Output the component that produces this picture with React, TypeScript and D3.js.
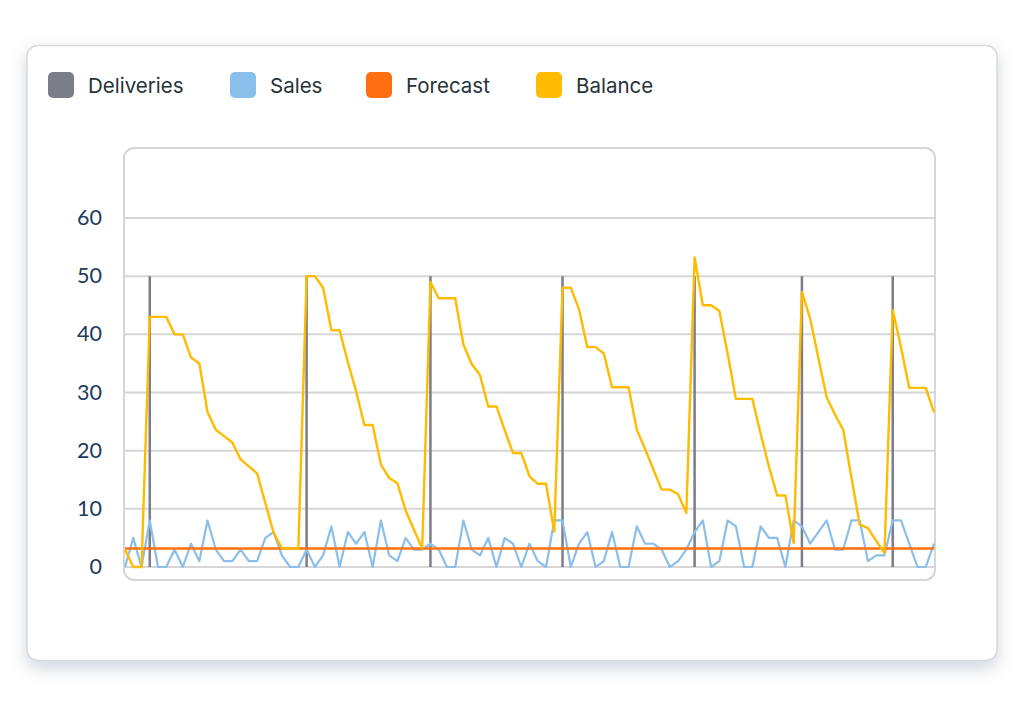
import React from 'react'
import * as d3 from 'd3'

// daily series, day index 0..98
const sales = [
    0, 5, 0, 8, 0, 0, 3, 0, 4, 1, 8, 3, 1, 1, 3, 1, 1, 5, 6, 2, 0, 0, 3, 0, 2,
    7, 0, 6, 4, 6, 0, 8, 2, 1, 5, 3, 3, 4, 3, 0, 0, 8, 3, 2, 5, 0, 5, 4, 0, 4,
    1, 0, 8, 8, 0, 4, 6, 0, 1, 6, 0, 0, 7, 4, 4, 3, 0, 1, 3, 6, 8, 0, 1, 8, 7,
    0, 0, 7, 5, 5, 0, 8, 7, 4, 6, 8, 3, 3, 8, 8, 1, 2, 2, 8, 8, 4, 0, 0, 4,
]

const balance = [
    3, 0, 0, 43, 43, 43, 40, 40, 36, 35, 26.6, 23.6, 22.5, 21.4, 18.5, 17.3,
    16.1, 11, 5.9, 3.2, 3.2, 3.2, 50, 50, 48, 40.7, 40.7, 35.2, 30.2, 24.4,
    24.4, 17.6, 15.3, 14.4, 9.7, 6.4, 3.2, 49, 46.2, 46.2, 46.2, 38.2, 34.9, 33,
    27.6, 27.6, 23.5, 19.6, 19.6, 15.6, 14.3, 14.3, 6.1, 48, 48, 44.3, 37.8,
    37.8, 36.7, 30.9, 30.9, 30.9, 23.6, 20.3, 16.8, 13.3, 13.3, 12.5, 9.3, 53.2,
    45, 45, 44, 36.7, 28.9, 28.9, 28.9, 22.9, 17.3, 12.3, 12.3, 4.1, 47.3, 42.7,
    35.9, 29.2, 26.2, 23.6, 15.4, 7.3, 6.7, 4.5, 2.4, 44.2, 37.8, 30.8, 30.8,
    30.8, 26.6,
]

const deliveryDays = [3, 22, 37, 53, 69, 82, 93]
const deliveryAmounts = [50, 50, 50, 50, 50, 50, 50]

const forecastLevel = 3.2

const yTicks = [0, 10, 20, 30, 40, 50, 60]

const legendItems = ['Deliveries', 'Sales', 'Forecast', 'Balance']
const legendColors = ['#7b7d88', '#8abfeb', '#ff6f12', '#ffbb00']
const legendX = [48, 230, 366, 536]

const App = () => {
    const days = d3.range(sales.length)

    // plot region
    const box = { left: 124, top: 148, right: 935, bottom: 580 }

    const x = d3
        .scalePoint<number>()
        .domain(days)
        .range([125, 934])

    const y = d3.scaleLinear().domain([0, 60]).range([567, 218])

    const line = d3
        .line<number>()
        .x((_, i) => x(i) as number)
        .y((d) => y(d))

    return (
        <svg
            width={1024}
            height={706}
            style={{ position: 'absolute', left: 0, top: 0, background: '#fff' }}
        >
            <defs>
                <filter id="cardShadow" x="-10%" y="-10%" width="120%" height="130%">
                    <feDropShadow
                        dx="0"
                        dy="7"
                        stdDeviation="8"
                        floodColor="#5a6a85"
                        floodOpacity="0.28"
                    />
                </filter>
            </defs>

            {/* card */}
            <rect
                x={27}
                y={45.5}
                width={970}
                height={615}
                rx={11}
                fill="#fff"
                stroke="#d9d9d9"
                strokeWidth={1.5}
                filter="url(#cardShadow)"
            />

            {/* legend */}
            {legendItems.map((name, i) => (
                <g key={name} transform={`translate(${legendX[i]},72)`}>
                    <rect width={26} height={26} rx={5} fill={legendColors[i]} />
                    <text
                        x={40}
                        y={13.5}
                        dominantBaseline="central"
                        fontFamily="Inter, 'Noto Sans', sans-serif"
                        fontSize={20.5}
                        fill="#263238"
                    >
                        {name}
                    </text>
                </g>
            ))}

            {/* plot frame */}
            <rect
                x={box.left}
                y={box.top}
                width={box.right - box.left}
                height={box.bottom - box.top}
                rx={10}
                fill="none"
                stroke="#d6d6d6"
                strokeWidth={2}
            />

            {/* grid + y labels */}
            {yTicks.map((t) => (
                <g key={t}>
                    <line
                        x1={box.left}
                        x2={box.right}
                        y1={y(t)}
                        y2={y(t)}
                        stroke="#d6d6d6"
                        strokeWidth={2}
                    />
                    <text
                        x={102}
                        y={y(t) - 1}
                        textAnchor="end"
                        dominantBaseline="central"
                        fontFamily="Lato, 'Noto Sans', sans-serif"
                        fontSize={21.5}
                        fill="#1d3b5c"
                    >
                        {t}
                    </text>
                </g>
            ))}

            {/* deliveries */}
            {deliveryDays.map((d, i) => (
                <line
                    key={d}
                    x1={x(d)}
                    x2={x(d)}
                    y1={y(0)}
                    y2={y(deliveryAmounts[i])}
                    stroke="#7b7d88"
                    strokeWidth={2.5}
                />
            ))}

            {/* sales */}
            <path
                d={line(sales) ?? ''}
                fill="none"
                stroke="#8abfeb"
                strokeWidth={2.2}
                strokeLinejoin="round"
            />

            {/* forecast */}
            <line
                x1={x(0)}
                x2={x(days.length - 1)}
                y1={y(forecastLevel)}
                y2={y(forecastLevel)}
                stroke="#ff6f12"
                strokeWidth={2.5}
            />

            {/* balance */}
            <path
                d={line(balance) ?? ''}
                fill="none"
                stroke="#ffbb00"
                strokeWidth={2.4}
                strokeLinejoin="round"
            />
        </svg>
    )
}

export default App
